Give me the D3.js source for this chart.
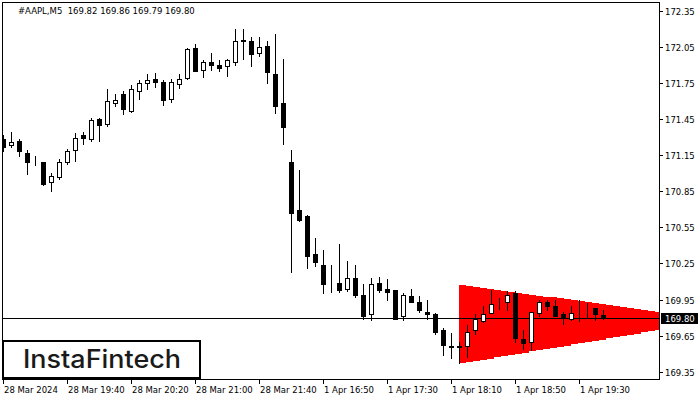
<!DOCTYPE html>
<html><head><meta charset="utf-8">
<script src="https://cdn.jsdelivr.net/npm/d3@7"></script>
<style>body{margin:0;background:#fff}svg{display:block}</style>
</head><body>
<svg id="c" width="700" height="400"></svg>
<script>
const symbol = "#AAPL,M5";
const opens  = [171.28,171.23,171.27,171.17,171.105,171.09,170.93,170.97,171.09,171.19,171.32,171.28,171.45,171.41,171.58,171.66,171.52,171.68,171.75,171.78,
                171.76,171.62,171.74,171.79,172.04,171.86,171.92,171.90,171.89,171.92,172.11,172.10,172.00,172.06,171.82,171.58,171.09,170.69,170.64,170.33,
                170.24,170.08,170.09,170.04,170.13,169.99,169.83,170.09,170.04,170.03,169.81,169.98,169.93,169.85,169.83,169.70,169.56,169.56,169.56,169.70,
                169.77,169.84,169.925,169.93,170.00,169.62,169.60,169.84,169.93,169.90,169.83,169.79,169.85,169.86,169.88,169.82];
const highs  = [171.32,171.34,171.28,171.19,171.14,171.09,171.00,171.12,171.20,171.33,171.34,171.46,171.46,171.70,171.66,171.68,171.73,171.77,171.82,171.83,
                171.77,171.78,171.82,172.04,172.07,171.94,172.00,171.94,171.95,172.20,172.20,172.13,172.13,172.10,172.16,171.95,171.19,171.03,170.65,170.46,
                170.36,170.24,170.41,170.27,170.24,170.08,170.13,170.14,170.12,170.03,170.00,170.04,169.98,169.95,169.84,169.71,169.67,169.60,169.74,169.83,
                169.90,170.03,169.96,170.02,170.02,169.70,169.85,169.95,169.95,169.95,169.85,169.90,169.95,169.92,169.88,169.86];
const lows   = [171.18,171.22,171.14,170.99,171.07,170.90,170.85,170.95,171.08,171.10,171.24,171.27,171.27,171.39,171.56,171.49,171.51,171.62,171.70,171.72,
                171.57,171.59,171.71,171.78,171.85,171.80,171.86,171.85,171.81,171.90,171.95,171.89,171.97,171.75,171.50,171.24,170.18,170.60,170.21,170.23,
                170.00,170.01,170.01,170.02,169.97,169.79,169.78,170.01,169.95,169.79,169.78,169.93,169.85,169.79,169.66,169.49,169.46,169.42,169.47,169.66,
                169.76,169.84,169.87,169.86,169.60,169.54,169.53,169.81,169.86,169.81,169.75,169.78,169.77,169.80,169.78,169.79];
const closes = [171.22,171.26,171.18,171.09,171.10,170.91,170.98,171.09,171.18,171.29,171.29,171.44,171.40,171.60,171.61,171.53,171.70,171.75,171.77,171.76,
                171.61,171.76,171.78,172.03,171.85,171.92,171.90,171.87,171.94,172.10,172.10,171.99,172.05,171.84,171.56,171.38,170.67,170.61,170.31,170.26,
                170.08,170.075,170.03,170.13,169.99,169.81,170.08,170.03,170.01,169.79,169.99,169.93,169.86,169.83,169.68,169.57,169.555,169.555,169.68,169.79,
                169.83,169.91,169.925,169.99,169.63,169.59,169.85,169.93,169.90,169.81,169.80,169.84,169.845,169.865,169.83,169.80];
const xTickIndex  = [0,8,16,24,32,40,48,56,64,72];
const xTickLabels = ["28 Mar 2024","28 Mar 19:40","28 Mar 20:20","28 Mar 21:00","28 Mar 21:40","1 Apr 16:50","1 Apr 17:30","1 Apr 18:10","1 Apr 18:50","1 Apr 19:30"];
const yTicks = [169.35,169.65,169.95,170.25,170.55,170.85,171.15,171.45,171.75,172.05,172.35];
const lastPrice = 169.80;
// symmetric triangle pattern: start bar, apex bar, upper/lower bounds at start, apex price
const triStart = 57, triApexIdx = 89, triUpper = 170.07, triLower = 169.42, triApex = 169.78;

const svg = d3.select("#c");
const L = 2, R = 659, T = 2, B = 379;
const x = d3.scaleLinear().domain([-0.125, 82]).range([L, R]);
const y = d3.scaleLinear().domain([169.35, 172.35]).range([371.7, 10.7]);
const fontAxis = "DejaVu Sans, Verdana, sans-serif";
const fs = "8.5px";

svg.append("rect").attr("width",700).attr("height",400).attr("fill","#fff");
svg.append("defs").append("clipPath").attr("id","plot")
  .append("rect").attr("x",L).attr("y",T).attr("width",R-L).attr("height",B-T);
const plot = svg.append("g").attr("clip-path","url(#plot)");

// triangle (stepped fill)
const step = 7;
const x0 = Math.round(x(triStart));
const rects = [];
for (let px = x0; px < R; px += step) {
  const t = x.invert(px);
  const f = (t - triStart) / (triApexIdx - triStart);
  const up = triUpper + (triApex - triUpper) * f;
  const lo = triLower + (triApex - triLower) * f;
  rects.push({px, w: Math.min(step, R - px), top: Math.round(y(up)), bot: Math.round(y(lo))});
}
plot.append("g").attr("shape-rendering","crispEdges").selectAll("rect").data(rects).join("rect")
  .attr("x", d=>d.px).attr("y", d=>d.top).attr("width", d=>d.w).attr("height", d=>d.bot-d.top)
  .attr("fill","#ff0000");

// last price line
const yl = Math.round(y(lastPrice)) + 0.5;
plot.append("line").attr("x1",L).attr("x2",R).attr("y1",yl).attr("y2",yl)
  .attr("stroke","#000").attr("stroke-width",1).attr("shape-rendering","crispEdges");

// candles
const bars = opens.map((o,i)=>({i,o,h:highs[i],l:lows[i],c:closes[i]}));
const cg = plot.append("g").attr("shape-rendering","crispEdges");
bars.forEach(d=>{
  const cx = Math.round(x(d.i));
  const yh = Math.round(y(d.h)), yL = Math.round(y(d.l));
  const yTop = Math.round(y(Math.max(d.o,d.c))), yBot = Math.round(y(Math.min(d.o,d.c)));
  cg.append("line").attr("x1",cx+0.5).attr("x2",cx+0.5).attr("y1",yh).attr("y2",yL+1)
    .attr("stroke","#000").attr("stroke-width",1);
  const bull = d.c > d.o;
  cg.append("rect").attr("x",cx-2+0.5).attr("y",yTop+0.5).attr("width",4).attr("height",Math.max(0,yBot-yTop))
    .attr("fill", bull ? "#fff" : "#000").attr("stroke","#000").attr("stroke-width",1);
});

// frame
const fr = svg.append("g").attr("shape-rendering","crispEdges").attr("stroke","#000").attr("stroke-width",1);
fr.append("line").attr("x1",L+0.5).attr("x2",L+0.5).attr("y1",T).attr("y2",B+1);
fr.append("line").attr("x1",R+0.5).attr("x2",R+0.5).attr("y1",T).attr("y2",B+1);
fr.append("line").attr("x1",L).attr("x2",R+1).attr("y1",T+0.5).attr("y2",T+0.5);
fr.append("line").attr("x1",L).attr("x2",R+1).attr("y1",B+0.5).attr("y2",B+0.5);

// y axis
const ya = svg.append("g");
yTicks.forEach(v=>{
  const yy = Math.round(y(v)) + 0.5;
  ya.append("line").attr("x1",R+1).attr("x2",R+4).attr("y1",yy).attr("y2",yy)
    .attr("stroke","#000").attr("shape-rendering","crispEdges");
  ya.append("text").attr("x",665).attr("y",yy+3.5).text(v.toFixed(2))
    .attr("font-family",fontAxis).attr("font-size",fs).attr("fill","#000");
});
// last price label
svg.append("rect").attr("x",661).attr("y",Math.round(y(lastPrice))-5).attr("width",37).attr("height",11).attr("fill","#000");
svg.append("text").attr("x",665).attr("y",Math.round(y(lastPrice))+4).text(lastPrice.toFixed(2))
  .attr("font-family",fontAxis).attr("font-size",fs).attr("fill","#fff");

// x axis
const xa = svg.append("g");
xTickIndex.forEach((idx,k)=>{
  const xx = Math.round(x(idx)) + 0.5;
  xa.append("line").attr("x1",xx).attr("x2",xx).attr("y1",B+1).attr("y2",B+5)
    .attr("stroke","#000").attr("shape-rendering","crispEdges");
  xa.append("text").attr("x",xx+0.5).attr("y",393).text(xTickLabels[k])
    .attr("font-family",fontAxis).attr("font-size",fs).attr("fill","#000");
});

// title
const last = bars[bars.length-1];
svg.append("text").attr("x",18).attr("y",14)
  .text(`${symbol}  ${last.o.toFixed(2)} ${last.h.toFixed(2)} ${last.l.toFixed(2)} ${last.c.toFixed(2)}`)
  .attr("font-family",fontAxis).attr("font-size",fs).attr("fill","#000").attr("xml:space","preserve").style("white-space","pre");

// logo box
svg.append("rect").attr("x",3).attr("y",341).attr("width",197).attr("height",37)
  .attr("fill","#fff").attr("stroke","#000").attr("stroke-width",2);
svg.append("text").attr("x",23).attr("y",368).text("InstaFintech")
  .attr("font-family","Inter, Lato, sans-serif").attr("font-size","25px").attr("font-weight",500)
  .attr("fill","#1a1a1a").attr("textLength",158).attr("lengthAdjust","spacingAndGlyphs");
</script>
</body></html>
